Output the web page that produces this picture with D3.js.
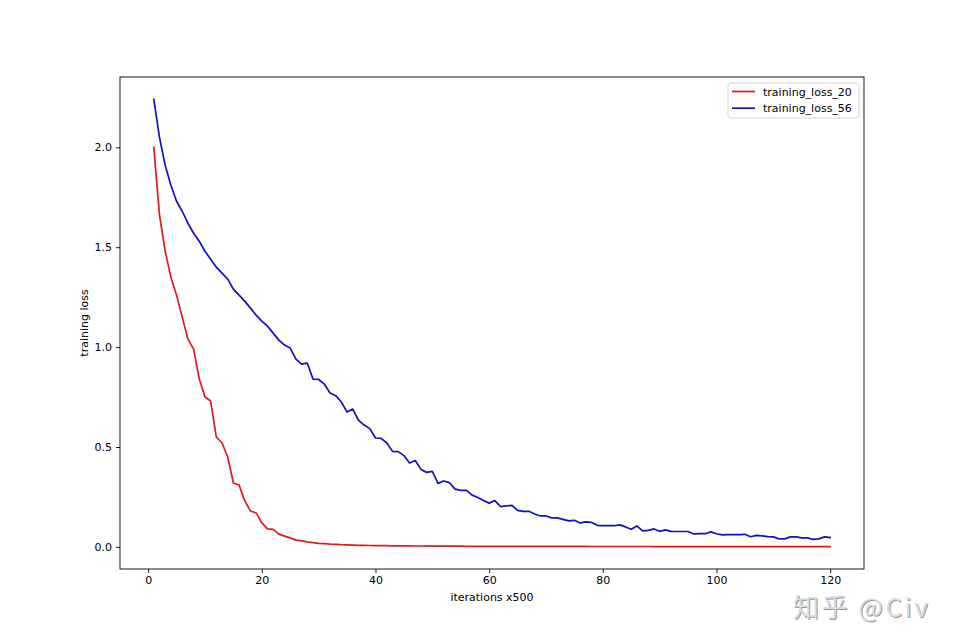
<!DOCTYPE html>
<html>
<head>
<meta charset="utf-8">
<script src="https://cdn.jsdelivr.net/npm/d3@7"></script>
<style>
  body { margin: 0; background: #fff; }
  svg { display: block; font-family: "DejaVu Sans", sans-serif; }
</style>
</head>
<body>
<script>
'use strict'

const width = 960
const height = 640
const margin = { left: 120, right: 96, top: 77, bottom: 71 }

// loss values, one per 500 iterations (x = 1..120)
const loss20 = [
    2.00, 1.66, 1.48, 1.35, 1.26, 1.15, 1.04, 0.99, 0.84, 0.75,
    0.73, 0.55, 0.52, 0.45, 0.32, 0.31, 0.23, 0.18, 0.17, 0.12,
    0.09, 0.088, 0.064, 0.054, 0.045, 0.034, 0.030, 0.025, 0.021, 0.018,
    0.016, 0.014, 0.013, 0.011, 0.010, 0.009, 0.008, 0.0075, 0.007, 0.0065,
    0.006, 0.006, 0.0055, 0.005, 0.005, 0.005, 0.0045, 0.0045, 0.005, 0.004,
    0.004, 0.004, 0.0035, 0.0035, 0.0035, 0.003, 0.003, 0.003, 0.003, 0.003,
    0.003, 0.0028, 0.0028, 0.0027, 0.0027, 0.0026, 0.0026, 0.0025, 0.0025, 0.0025,
    0.0024, 0.0024, 0.0023, 0.0023, 0.0022, 0.0022, 0.0022, 0.0021, 0.0021, 0.002,
    0.002, 0.002, 0.002, 0.002, 0.0019, 0.0019, 0.0019, 0.0019, 0.0018, 0.0018,
    0.0018, 0.0018, 0.0017, 0.0017, 0.0017, 0.0017, 0.0016, 0.0016, 0.0016, 0.0016,
    0.0016, 0.0015, 0.0015, 0.0015, 0.0015, 0.0015, 0.0015, 0.0014, 0.0014, 0.0014,
    0.0014, 0.0014, 0.0014, 0.0013, 0.0013, 0.0013, 0.0013, 0.0013, 0.0013, 0.0013
]

const loss56 = [
    2.24, 2.05, 1.91, 1.81, 1.73, 1.68, 1.62, 1.57, 1.53, 1.48,
    1.44, 1.40, 1.37, 1.34, 1.29, 1.26, 1.23, 1.195, 1.16, 1.13,
    1.105, 1.07, 1.035, 1.01, 0.995, 0.94, 0.915, 0.92, 0.84, 0.838,
    0.815, 0.77, 0.757, 0.725, 0.675, 0.69, 0.635, 0.61, 0.592, 0.545,
    0.543, 0.52, 0.478, 0.477, 0.457, 0.42, 0.432, 0.388, 0.373, 0.378,
    0.318, 0.33, 0.322, 0.289, 0.283, 0.283, 0.259, 0.247, 0.232, 0.219,
    0.232, 0.202, 0.205, 0.208, 0.183, 0.178, 0.178, 0.165, 0.155, 0.155,
    0.145, 0.145, 0.138, 0.130, 0.133, 0.120, 0.125, 0.123, 0.108, 0.106,
    0.106, 0.106, 0.110, 0.100, 0.088, 0.105, 0.080, 0.083, 0.090, 0.078,
    0.085, 0.078, 0.077, 0.077, 0.077, 0.065, 0.066, 0.066, 0.075, 0.066,
    0.060, 0.061, 0.061, 0.061, 0.063, 0.051, 0.058, 0.055, 0.051, 0.050,
    0.040, 0.040, 0.050, 0.050, 0.045, 0.045, 0.038, 0.040, 0.050, 0.047
]

const seriesNames = ['training_loss_20', 'training_loss_56']
const seriesColors = ['#de1a1c', '#1010c4']
const xTicks = [0, 20, 40, 60, 80, 100, 120]
const yTicks = [0.0, 0.5, 1.0, 1.5, 2.0]

const series = [loss20, loss56].map((vals, k) => ({
    name: seriesNames[k],
    color: seriesColors[k],
    points: vals.map((v, i) => ({ x: i + 1, y: v }))
}))

const svg = d3.select('body').append('svg')
    .attr('width', width).attr('height', height)

const plotW = width - margin.left - margin.right
const plotH = height - margin.top - margin.bottom

// matplotlib style 5% padding around data
const xMin = 1, xMax = loss20.length
const xPad = (xMax - xMin) * 0.05
const yMin = d3.min([...loss20, ...loss56])
const yMax = d3.max([...loss20, ...loss56])
const yPad = (yMax - yMin) * 0.05

const x = d3.scaleLinear().domain([xMin - xPad, xMax + xPad]).range([margin.left, margin.left + plotW])
const y = d3.scaleLinear().domain([yMin - yPad, yMax + yPad]).range([margin.top + plotH, margin.top])

const g = svg.append('g')

const line = d3.line().x(d => x(d.x)).y(d => y(d.y))

g.selectAll('path.series')
    .data(series)
    .enter()
    .append('path')
    .attr('class', 'series')
    .attr('d', d => line(d.points))
    .attr('fill', 'none')
    .attr('stroke', d => d.color)
    .attr('stroke-width', 1.7)
    .attr('stroke-linejoin', 'round')
    .attr('stroke-linecap', 'square')

// axes
const xAxis = d3.axisBottom(x).tickValues(xTicks).tickSize(4).tickPadding(3).tickFormat(d3.format('d'))
const yAxis = d3.axisLeft(y).tickValues(yTicks).tickSize(4).tickPadding(4).tickFormat(d3.format('.1f'))

const xg = svg.append('g').attr('transform', `translate(0,${margin.top + plotH})`).call(xAxis)
const yg = svg.append('g').attr('transform', `translate(${margin.left},0)`).call(yAxis)
;[xg, yg].forEach(a => {
    a.select('.domain').remove()
    a.selectAll('line').attr('stroke', '#000').attr('stroke-width', 0.9)
    a.selectAll('text').attr('fill', '#000').style('font-size', '11px').style('font-family', '"DejaVu Sans", sans-serif')
})

svg.append('rect')
    .attr('x', margin.left).attr('y', margin.top)
    .attr('width', plotW).attr('height', plotH)
    .attr('fill', 'none').attr('stroke', '#000').attr('stroke-width', 0.9)

svg.append('text')
    .attr('x', margin.left + plotW / 2).attr('y', 601)
    .attr('text-anchor', 'middle')
    .style('font-size', '11px')
    .text('iterations x500')

svg.append('text')
    .attr('transform', `translate(88,${margin.top + plotH / 2}) rotate(-90)`)
    .attr('text-anchor', 'middle')
    .style('font-size', '11px')
    .text('training loss')

// legend
const legend = svg.append('g').attr('transform', 'translate(728,83)')
legend.append('rect')
    .attr('width', 131).attr('height', 35).attr('rx', 3)
    .attr('fill', '#fff').attr('fill-opacity', 0.8)
    .attr('stroke', '#d0d0d0').attr('stroke-width', 0.9)

const item = legend.selectAll('g.item')
    .data(series)
    .enter()
    .append('g')
    .attr('class', 'item')
    .attr('transform', (d, i) => `translate(0,${8.5 + i * 16.7})`)

item.append('line')
    .attr('x1', 4).attr('x2', 27)
    .attr('stroke', d => d.color).attr('stroke-width', 1.7)

item.append('text')
    .attr('x', 35).attr('y', 4)
    .style('font-size', '11px')
    .text(d => d.name)

// watermark
const wm = svg.append('g')
    .style('font-family', '"Noto Sans CJK SC", sans-serif')
    .style('font-size', '26px')
    .style('letter-spacing', '2.5px')
wm.append('text').attr('x', 794).attr('y', 618).attr('fill', '#9a9a9a').text('知乎 @Civ')
wm.append('text').attr('x', 793).attr('y', 617).attr('fill', '#dcdcdc').text('知乎 @Civ')
</script>
</body>
</html>
